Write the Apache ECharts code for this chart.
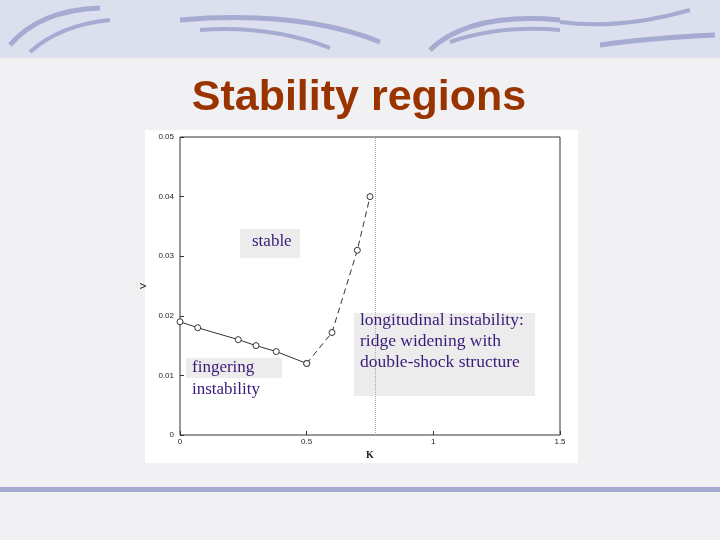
<!DOCTYPE html>
<html><head><meta charset="utf-8">
<script src="https://cdn.jsdelivr.net/npm/echarts@6/dist/echarts.min.js"></script>
<style>html,body{margin:0;padding:0;background:#f1f1f3}#c{width:720px;height:540px}</style>
</head><body><div id="c"></div>
<script>
const solidK = [0, 0.07, 0.23, 0.3, 0.38, 0.5];
const solidV = [0.019, 0.018, 0.016, 0.015, 0.014, 0.012];
const dashK = [0.5, 0.6, 0.7, 0.75];
const dashV = [0.012, 0.0172, 0.031, 0.040];
const boundaryK = 0.77;

const chart = echarts.init(document.getElementById('c'));
const pts = (k, v) => k.map((x, i) => [x, v[i]]);
const lbl = (v) => v === 0 ? '0' : String(v);
const purple = '#3a1a78';
const serif = 'Liberation Serif';
const swoosh = (x1,y1,cx,cy,x2,y2,w) => ({type:'bezierCurve', shape:{x1:x1,y1:y1,cpx1:cx,cpy1:cy,x2:x2,y2:y2}, style:{stroke:'#8f96c4', lineWidth:w, fill:null, opacity:0.7}, z:-9});
chart.setOption({
  backgroundColor: '#f1f1f3',
  graphic: [
    {type:'rect', shape:{x:0,y:0,width:720,height:58}, style:{fill:'#dcdfee'}, z:-10},
    swoosh(10,45,40,10,100,8,5), swoosh(30,52,60,25,110,20,4),
    swoosh(180,20,300,10,380,42,5), swoosh(200,30,270,25,330,48,4),
    swoosh(430,50,470,12,560,20,5), swoosh(560,22,620,30,690,10,4),
    swoosh(450,42,500,25,560,30,4), swoosh(600,45,650,38,715,35,5),
    {type:'rect', shape:{x:0,y:487,width:720,height:5}, style:{fill:'#a4aad0'}, z:-9},
    {type:'rect', shape:{x:145,y:130,width:433,height:333}, style:{fill:'#ffffff'}, z:-5},
    {type:'text', x:359, y:98, style:{text:'Stability regions', font:'bold 43px "Liberation Sans"', fill:'#993300', align:'center', verticalAlign:'middle'}},
    {type:'rect', shape:{x:240,y:229,width:60,height:29}, style:{fill:'#ececec'}, z:5},
    {type:'text', x:252, y:233, style:{text:'stable', font:'17px "Liberation Serif"', fill:purple}, z:6},
    {type:'rect', shape:{x:186,y:358,width:96,height:20}, style:{fill:'#ececec'}, z:5},
    {type:'text', x:192, y:357, style:{text:'fingering\ninstability', font:'17px "Liberation Serif"', fill:purple, lineHeight:22}, z:6},
    {type:'rect', shape:{x:354,y:313,width:181,height:83}, style:{fill:'#ececec'}, z:5},
    {type:'text', x:360, y:310, style:{text:'longitudinal instability:\nridge widening with\ndouble-shock structure', font:'17.5px "Liberation Serif"', fill:purple, lineHeight:21}, z:6}
  ],
  grid: {left:180, right:160, top:137, bottom:105, show:true, borderColor:'#333', borderWidth:1, backgroundColor:'#fff'},
  xAxis: {type:'value', min:0, max:1.5, interval:0.5, name:'K', nameLocation:'middle', nameGap:12,
    nameTextStyle:{fontFamily:serif, fontWeight:'bold', fontSize:10, color:'#222'},
    axisLine:{show:false}, axisTick:{inside:true, length:4, lineStyle:{color:'#333'}},
    axisLabel:{fontSize:8, color:'#222', margin:3, formatter:lbl}, splitLine:{show:false}},
  yAxis: {type:'value', min:0, max:0.05, interval:0.01, name:'V', nameLocation:'middle', nameGap:8,
    nameTextStyle:{fontSize:9, color:'#222'},
    axisLine:{show:false}, axisTick:{inside:true, length:4, lineStyle:{color:'#333'}},
    axisLabel:{fontSize:8, color:'#222', margin:6, formatter:v => v === 0 ? '0' : v.toFixed(2)}, splitLine:{show:false}},
  series: [
    {type:'line', data:pts(solidK, solidV), symbol:'circle', symbolSize:6, showSymbol:true,
     lineStyle:{color:'#333', width:1}, itemStyle:{color:'#fff', borderColor:'#333', borderWidth:1}},
    {type:'line', data:pts(dashK, dashV), symbol:'circle', symbolSize:6,
     lineStyle:{color:'#333', width:1, type:[6,4]}, itemStyle:{color:'#fff', borderColor:'#333', borderWidth:1},
     markLine:{silent:true, symbol:'none', label:{show:false}, lineStyle:{color:'#aaa', type:'dotted', width:1},
       data:[{xAxis:boundaryK}]}}
  ]
});
</script></body></html>
